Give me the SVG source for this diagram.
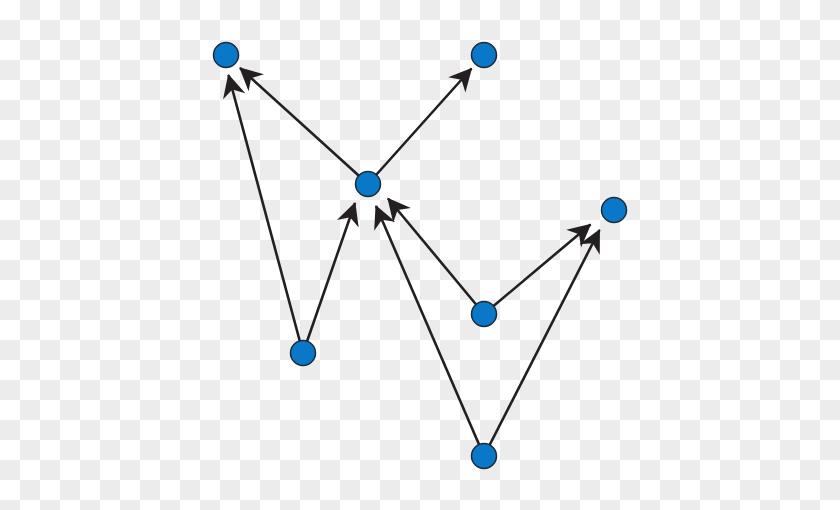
<svg xmlns="http://www.w3.org/2000/svg" width="840" height="510" viewBox="0 0 840 510">
  <defs>
    <pattern id="checker" x="0" y="0" width="40" height="40" patternUnits="userSpaceOnUse">
      <rect x="0" y="0" width="40" height="40" fill="#ffffff"/>
      <rect x="20" y="0" width="20" height="20" fill="#ececec"/>
      <rect x="0" y="20" width="20" height="20" fill="#ececec"/>
    </pattern>
    <marker id="arrow" viewBox="-28 -14 30 28" refX="0" refY="0" markerWidth="30" markerHeight="28" markerUnits="userSpaceOnUse" orient="auto">
      <path d="M1,0 L-22,-11.5 L-15,0 L-22,11.5 Z" fill="#231f20"/>
    </marker>
    <style>
      .edge { stroke: #231f20; stroke-width: 2.6; fill: none; marker-end: url(#arrow); }
      .node { fill: #0a78c8; stroke: #1d2a38; stroke-width: 1.5; }
    </style>
  </defs>
  <rect width="840" height="510" fill="url(#checker)"/>
  <g id="connectors">
    <line class="edge" x1="303" y1="353" x2="228.5" y2="75"/>
    <line class="edge" x1="303" y1="353" x2="355" y2="203"/>
    <line class="edge" x1="368" y1="184" x2="240" y2="68"/>
    <line class="edge" x1="368" y1="184" x2="471.5" y2="68.5"/>
    <line class="edge" x1="484" y1="314" x2="388" y2="198.5"/>
    <line class="edge" x1="484" y1="456" x2="376" y2="206"/>
    <line class="edge" x1="484" y1="314" x2="590.5" y2="224.5"/>
    <line class="edge" x1="484" y1="456" x2="599.5" y2="230"/>
  </g>
  <g id="node-a"><circle class="node" cx="226" cy="55" r="12.5"/></g>
  <g id="node-b"><circle class="node" cx="484" cy="55" r="12.5"/></g>
  <g id="node-c"><circle class="node" cx="368" cy="184" r="12.5"/></g>
  <g id="node-d"><circle class="node" cx="614" cy="210" r="12.5"/></g>
  <g id="node-e"><circle class="node" cx="303" cy="353" r="12.5"/></g>
  <g id="node-f"><circle class="node" cx="484" cy="314" r="12.5"/></g>
  <g id="node-g"><circle class="node" cx="484" cy="456" r="12.5"/></g>
</svg>
